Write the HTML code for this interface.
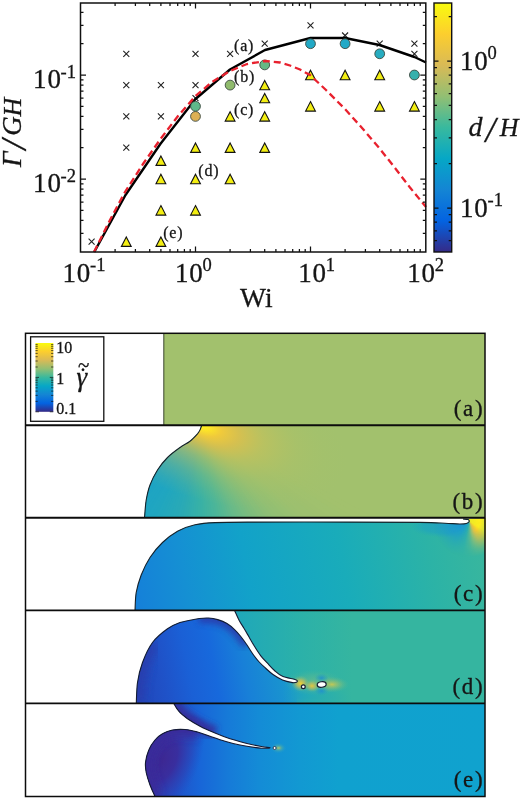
<!DOCTYPE html>
<html><head><meta charset="utf-8"><title>Figure</title>
<style>html,body{margin:0;padding:0;background:#fff}svg{display:block}text{font-family:"Liberation Serif","DejaVu Serif",serif;fill:#161616;stroke:#161616;stroke-width:.3px}</style></head><body>
<svg width="520" height="799" viewBox="0 0 520 799">
<defs>
<linearGradient id="par" x1="0" y1="1" x2="0" y2="0"><stop offset="0.000" stop-color="#352A87"/><stop offset="0.125" stop-color="#0363E1"/><stop offset="0.250" stop-color="#1485D4"/><stop offset="0.375" stop-color="#06A7C6"/><stop offset="0.500" stop-color="#38B99E"/><stop offset="0.625" stop-color="#92BF73"/><stop offset="0.750" stop-color="#D9BA56"/><stop offset="0.875" stop-color="#FCCE2E"/><stop offset="1.000" stop-color="#F9FB0E"/></linearGradient>
<clipPath id="cb"><path d="M201.6 425.3C201.4 426.0 200.9 428.1 200.2 429.5C199.5 430.9 199.2 431.8 197.5 433.8C195.8 435.7 192.9 439.0 190.0 441.2C187.1 443.5 183.8 444.8 180.0 447.5C176.2 450.2 171.2 453.8 167.5 457.5C163.8 461.2 160.4 465.4 157.5 470.0C154.6 474.6 151.9 480.0 150.0 485.0C148.1 490.0 147.2 494.5 146.2 500.0C145.3 505.5 144.8 514.8 144.5 517.8L485 517.8L485 425.3Z"/></clipPath>
<radialGradient id="hb" gradientUnits="userSpaceOnUse" cx="0" cy="0" r="1" gradientTransform="translate(203 426) rotate(18) scale(150 72)"><stop offset="0" stop-color="#fff21c" stop-opacity="1"/><stop offset="0.05" stop-color="#fde428" stop-opacity="1"/><stop offset="0.13" stop-color="#f2ca3a" stop-opacity="0.97"/><stop offset="0.25" stop-color="#dfc04a" stop-opacity="0.85"/><stop offset="0.42" stop-color="#c8c258" stop-opacity="0.6"/><stop offset="0.65" stop-color="#b4c262" stop-opacity="0.32"/><stop offset="0.85" stop-color="#aac266" stop-opacity="0.12"/><stop offset="1" stop-color="#a8c268" stop-opacity="0"/></radialGradient>
<clipPath id="cc"><path d="M135.0 610.4C135.2 607.4 135.2 598.4 136.2 592.5C137.3 586.6 139.0 580.8 141.2 575.0C143.5 569.2 146.5 562.9 150.0 557.5C153.5 552.1 157.9 546.9 162.5 542.5C167.1 538.1 172.1 534.2 177.5 531.2C182.9 528.3 188.8 526.2 195.0 524.8C201.2 523.4 205.8 523.0 215.0 522.6C224.2 522.2 227.5 522.2 250.0 522.1C272.5 522.0 321.7 522.1 350.0 522.1C378.3 522.1 404.2 522.2 420.0 522.4C435.8 522.6 438.3 522.9 445.0 523.2C451.7 523.5 456.4 524.0 460.0 524.0C463.6 524.0 464.9 523.9 466.4 523.5C467.9 523.1 468.9 522.2 469.2 521.6C469.5 521.0 469.0 520.0 468.0 519.6C467.0 519.2 463.8 519.1 463.0 519.0L486 518 L486 610.4Z"/></clipPath>
<linearGradient id="gc" gradientUnits="userSpaceOnUse" x1="135" y1="600" x2="480" y2="535"><stop offset="0" stop-color="#1580d9"/><stop offset="0.15" stop-color="#1590d3"/><stop offset="0.33" stop-color="#12a2c9"/><stop offset="0.6" stop-color="#19acba"/><stop offset="0.85" stop-color="#2cb3a6"/><stop offset="1" stop-color="#38b69e"/></linearGradient>
<radialGradient id="hc" gradientUnits="userSpaceOnUse" cx="0" cy="0" r="1" gradientTransform="translate(478.5 520) scale(26 25)"><stop offset="0" stop-color="#fff21c" stop-opacity="1"/><stop offset="0.3" stop-color="#f8d830" stop-opacity="1"/><stop offset="0.55" stop-color="#d9c04e" stop-opacity="0.8"/><stop offset="0.8" stop-color="#7fbc7c" stop-opacity="0.35"/><stop offset="1" stop-color="#38b69e" stop-opacity="0"/></radialGradient>
<radialGradient id="hc2" gradientUnits="userSpaceOnUse" cx="0" cy="0" r="1" gradientTransform="translate(444 526.5) scale(34 11)"><stop offset="0" stop-color="#1792d5" stop-opacity="0.5"/><stop offset="0.6" stop-color="#1698d0" stop-opacity="0.4"/><stop offset="1" stop-color="#18a0c8" stop-opacity="0"/></radialGradient>
<radialGradient id="mcg" gradientUnits="userSpaceOnUse" cx="469.2" cy="521.4" r="36"><stop offset="0" stop-color="#fff"/><stop offset="0.3" stop-color="#fff"/><stop offset="0.55" stop-color="#fff" stop-opacity="0.68"/><stop offset="0.8" stop-color="#fff" stop-opacity="0.25"/><stop offset="1" stop-color="#fff" stop-opacity="0"/></radialGradient>
<mask id="mc" maskUnits="userSpaceOnUse" x="420" y="510" width="70" height="70"><rect x="420" y="510" width="70" height="70" fill="url(#mcg)"/></mask>
<clipPath id="cd"><path d="M136.3 703.4C136.5 699.9 136.5 689.3 137.5 682.5C138.5 675.7 140.0 669.2 142.5 662.5C145.0 655.8 148.3 648.1 152.5 642.5C156.7 636.9 162.9 632.1 167.5 628.8C172.1 625.4 176.2 624.0 180.0 622.6C183.8 621.2 186.8 620.9 190.0 620.2C193.2 619.5 196.1 618.9 199.2 618.5C202.3 618.1 205.4 617.8 208.5 618.0C211.6 618.2 214.6 618.7 217.7 619.6C220.8 620.5 224.2 621.8 227.0 623.5C229.8 625.2 232.3 627.4 234.6 629.6C236.9 631.8 238.7 633.9 240.8 636.5C242.9 639.1 245.0 642.0 247.0 645.0C249.0 648.0 251.0 651.4 253.0 654.2C255.0 657.0 257.1 659.7 259.2 662.0C261.3 664.3 263.1 665.9 265.4 668.0C267.7 670.1 270.1 672.5 273.0 674.5C275.9 676.5 279.2 678.6 282.5 680.0C285.8 681.4 290.2 682.2 292.5 682.6C294.8 683.0 295.7 682.5 296.5 682.2C297.3 681.9 297.4 681.2 297.2 680.8C296.9 680.3 297.4 680.3 295.0 679.5C292.6 678.7 285.8 677.7 282.5 676.2C279.2 674.8 277.6 673.3 275.0 671.0C272.4 668.7 269.4 665.2 267.0 662.7C264.6 660.2 262.9 658.5 260.8 655.8C258.7 653.1 256.5 649.6 254.6 646.5C252.7 643.4 251.0 640.4 249.2 637.3C247.4 634.2 245.5 630.8 243.8 628.0C242.1 625.2 240.7 623.3 239.2 620.4C237.7 617.5 235.4 612.1 234.6 610.4L486 610.4L486 703.4Z"/></clipPath>
<linearGradient id="gd" gradientUnits="userSpaceOnUse" x1="235" y1="0" x2="485" y2="0"><stop offset="0" stop-color="#1fa7ba"/><stop offset="0.26" stop-color="#2bb1a9"/><stop offset="0.46" stop-color="#36b5a0"/><stop offset="0.8" stop-color="#3fb896"/><stop offset="1" stop-color="#41b994"/></linearGradient>
<linearGradient id="gdA" gradientUnits="userSpaceOnUse" x1="137" y1="690" x2="300" y2="660"><stop offset="0" stop-color="#2246ba"/><stop offset="0.17" stop-color="#1f52c8"/><stop offset="0.325" stop-color="#1a60d6"/><stop offset="0.48" stop-color="#1769dc"/><stop offset="0.66" stop-color="#1880d8"/><stop offset="0.9" stop-color="#1996ce"/><stop offset="1" stop-color="#1da3c2"/></linearGradient>
<filter id="bl4" x="-30%" y="-30%" width="160%" height="160%"><feGaussianBlur stdDeviation="4.5"/></filter>
<linearGradient id="gdF" gradientUnits="userSpaceOnUse" x1="283" y1="0" x2="352" y2="0"><stop offset="0" stop-color="#29b0ab" stop-opacity="0"/><stop offset="0.5" stop-color="#2eb2a6" stop-opacity="0.6"/><stop offset="1" stop-color="#35b5a0" stop-opacity="1"/></linearGradient>
<filter id="bl3" x="-20%" y="-20%" width="140%" height="140%"><feGaussianBlur stdDeviation="3"/></filter>
<clipPath id="cdA"><path d="M136.3 703.4C136.5 699.9 136.5 689.3 137.5 682.5C138.5 675.7 140.0 669.2 142.5 662.5C145.0 655.8 148.3 648.1 152.5 642.5C156.7 636.9 162.9 632.1 167.5 628.8C172.1 625.4 176.2 624.0 180.0 622.6C183.8 621.2 186.8 620.9 190.0 620.2C193.2 619.5 196.1 618.9 199.2 618.5C202.3 618.1 205.4 617.8 208.5 618.0C211.6 618.2 214.6 618.7 217.7 619.6C220.8 620.5 224.2 621.8 227.0 623.5C229.8 625.2 232.3 627.4 234.6 629.6C236.9 631.8 238.7 633.9 240.8 636.5C242.9 639.1 245.0 642.0 247.0 645.0C249.0 648.0 251.0 651.4 253.0 654.2C255.0 657.0 257.1 659.7 259.2 662.0C261.3 664.3 263.1 665.9 265.4 668.0C267.7 670.1 270.1 672.5 273.0 674.5C275.9 676.5 279.2 678.6 282.5 680.0C285.8 681.4 290.1 682.4 292.5 682.6C294.9 682.9 296.2 681.7 297.0 681.5L300 610.4L486 610.4L486 703.4Z"/></clipPath>
<radialGradient id="hd2" gradientUnits="userSpaceOnUse" cx="0" cy="0" r="1" gradientTransform="translate(300.5 683.5) scale(9 8)"><stop offset="0" stop-color="#fbd02c" stop-opacity="0.95"/><stop offset="0.45" stop-color="#e6c244" stop-opacity="0.6"/><stop offset="1" stop-color="#8cc07a" stop-opacity="0"/></radialGradient>
<radialGradient id="hd7" gradientUnits="userSpaceOnUse" cx="0" cy="0" r="1" gradientTransform="translate(314 682.5) scale(30 13)"><stop offset="0" stop-color="#98c274" stop-opacity="0.5"/><stop offset="0.6" stop-color="#78be84" stop-opacity="0.25"/><stop offset="1" stop-color="#50b898" stop-opacity="0"/></radialGradient>
<radialGradient id="hd3" gradientUnits="userSpaceOnUse" cx="0" cy="0" r="1" gradientTransform="translate(312 686) scale(8 6)"><stop offset="0" stop-color="#f4c834" stop-opacity="0.9"/><stop offset="0.5" stop-color="#d8c24c" stop-opacity="0.5"/><stop offset="1" stop-color="#7cbe80" stop-opacity="0"/></radialGradient>
<radialGradient id="hd4" gradientUnits="userSpaceOnUse" cx="0" cy="0" r="1" gradientTransform="translate(332 684.5) scale(17 8)"><stop offset="0" stop-color="#e0cc44" stop-opacity="0.8"/><stop offset="0.4" stop-color="#b0c464" stop-opacity="0.5"/><stop offset="1" stop-color="#60ba8c" stop-opacity="0"/></radialGradient>
<radialGradient id="hd5" gradientUnits="userSpaceOnUse" cx="0" cy="0" r="1" gradientTransform="translate(321.5 678) scale(7 4.5)"><stop offset="0" stop-color="#1a88d6" stop-opacity="0.75"/><stop offset="1" stop-color="#1a98cc" stop-opacity="0"/></radialGradient>
<radialGradient id="hd6" gradientUnits="userSpaceOnUse" cx="0" cy="0" r="1" gradientTransform="translate(321.5 691) scale(7 4.5)"><stop offset="0" stop-color="#1a88d6" stop-opacity="0.75"/><stop offset="1" stop-color="#1a98cc" stop-opacity="0"/></radialGradient>
<clipPath id="ce"><path d="M155.0 796.5C154.2 794.6 151.5 789.0 150.0 785.0C148.5 781.0 147.0 776.2 146.2 772.5C145.5 768.8 145.1 766.2 145.5 762.5C145.9 758.8 147.2 753.8 148.8 750.0C150.3 746.2 152.7 742.7 155.0 740.0C157.3 737.3 159.6 735.4 162.5 733.8C165.4 732.1 168.8 730.7 172.5 730.0C176.2 729.3 180.8 729.2 185.0 729.5C189.2 729.8 193.3 730.9 197.5 732.0C201.7 733.1 205.4 734.7 210.0 736.2C214.6 737.8 220.0 739.8 225.0 741.2C230.0 742.7 233.8 743.8 240.0 745.0C246.2 746.2 257.0 747.8 262.0 748.2C267.0 748.6 270.3 747.9 270.0 747.6C269.7 747.3 264.2 747.1 260.0 746.3C255.8 745.5 250.0 744.3 245.0 743.0C240.0 741.7 235.0 740.4 230.0 738.8C225.0 737.1 220.0 735.1 215.0 733.0C210.0 730.9 204.6 728.6 200.0 726.2C195.4 723.9 191.0 721.2 187.5 718.8C184.0 716.2 181.0 713.8 178.8 711.2C176.5 708.7 174.6 704.7 173.8 703.4L486 703.4L486 796.5Z"/></clipPath>
<linearGradient id="ge" gradientUnits="userSpaceOnUse" x1="146" y1="0" x2="485" y2="0"><stop offset="0" stop-color="#2a42ba"/><stop offset="0.085" stop-color="#2052c8"/><stop offset="0.16" stop-color="#1866d8"/><stop offset="0.25" stop-color="#167cd8"/><stop offset="0.336" stop-color="#148cd6"/><stop offset="0.455" stop-color="#1299d2"/><stop offset="0.57" stop-color="#10a1cf"/><stop offset="1" stop-color="#10a2ce"/></linearGradient>
<radialGradient id="he1" gradientUnits="userSpaceOnUse" cx="0" cy="0" r="1" gradientTransform="translate(278.5 748) scale(8 5.5)"><stop offset="0" stop-color="#e0d048" stop-opacity="0.8"/><stop offset="0.4" stop-color="#80c080" stop-opacity="0.4"/><stop offset="1" stop-color="#1a9ecc" stop-opacity="0"/></radialGradient>
<radialGradient id="he2" gradientUnits="userSpaceOnUse" cx="0" cy="0" r="1" gradientTransform="translate(163 760) rotate(24) scale(36 62)"><stop offset="0" stop-color="#3d2893" stop-opacity="1"/><stop offset="0.35" stop-color="#3a2c9c" stop-opacity="0.95"/><stop offset="0.7" stop-color="#2f3cb0" stop-opacity="0.55"/><stop offset="1" stop-color="#2248c4" stop-opacity="0"/></radialGradient>
<linearGradient id="par2" x1="0" y1="1" x2="0" y2="0"><stop offset="0.000" stop-color="#352A87"/><stop offset="0.125" stop-color="#0363E1"/><stop offset="0.250" stop-color="#1485D4"/><stop offset="0.375" stop-color="#06A7C6"/><stop offset="0.500" stop-color="#38B99E"/><stop offset="0.625" stop-color="#92BF73"/><stop offset="0.750" stop-color="#D9BA56"/><stop offset="0.875" stop-color="#FCCE2E"/><stop offset="1.000" stop-color="#F9FB0E"/></linearGradient>
</defs>
<rect width="520" height="799" fill="#fff"/>
<g id="plot">
<g stroke="#222" stroke-width="1.1" fill="none"><path d="M88.6 238.6L94.6 244.6M88.6 244.6L94.6 238.6"/><path d="M123.3 50.8L129.3 56.8M123.3 56.8L129.3 50.8"/><path d="M123.3 82.1L129.3 88.1M123.3 88.1L129.3 82.1"/><path d="M123.3 113.4L129.3 119.4M123.3 119.4L129.3 113.4"/><path d="M123.3 144.7L129.3 150.7M123.3 150.7L129.3 144.7"/><path d="M157.9 82.1L163.9 88.1M157.9 88.1L163.9 82.1"/><path d="M157.9 113.4L163.9 119.4M157.9 119.4L163.9 113.4"/><path d="M192.5 50.8L198.5 56.8M192.5 56.8L198.5 50.8"/><path d="M192.5 82.1L198.5 88.1M192.5 88.1L198.5 82.1"/><path d="M192.5 95.1L198.5 101.1M192.5 101.1L198.5 95.1"/><path d="M227.1 50.8L233.1 56.8M227.1 56.8L233.1 50.8"/><path d="M261.7 40.7L267.7 46.7M261.7 46.7L267.7 40.7"/><path d="M307.5 22.4L313.5 28.4M307.5 28.4L313.5 22.4"/><path d="M342.1 32.5L348.1 38.5M342.1 38.5L348.1 32.5"/><path d="M376.7 40.7L382.7 46.7M376.7 46.7L382.7 40.7"/><path d="M411.4 40.7L417.4 46.7M411.4 46.7L417.4 40.7"/><path d="M411.4 50.8L417.4 56.8M411.4 56.8L417.4 50.8"/></g>
<path d="M94.25 252L125.5 195L160.5 143.75L195.5 99L230 69.5L265 50L310.5 38L345 38L379.5 45L414.5 57L426 62.5" fill="none" stroke="#000" stroke-width="2.4" stroke-linejoin="round"/>
<g stroke="#3c4a40" stroke-width="0.9"><circle cx="195.5" cy="106.3" r="4.9" fill="#5fb98a"/><circle cx="195.5" cy="116.4" r="4.9" fill="#ddb054"/><circle cx="230.1" cy="85.1" r="4.9" fill="#8fba6c"/><circle cx="264.7" cy="64.9" r="4.9" fill="#66b884"/><circle cx="310.5" cy="43.7" r="4.9" fill="#22a9c6"/><circle cx="345.1" cy="43.7" r="4.9" fill="#22a9c6"/><circle cx="379.7" cy="53.8" r="4.9" fill="#27acc0"/><circle cx="414.4" cy="75.0" r="4.9" fill="#36b0ac"/></g>
<g stroke="#111" stroke-width="1.1" fill="#f3ee12" stroke-linejoin="miter"><path d="M126.3 236.9L131.2 246.4L121.4 246.4Z"/><path d="M160.9 236.9L165.8 246.4L156.0 246.4Z"/><path d="M160.9 205.6L165.8 215.1L156.0 215.1Z"/><path d="M160.9 174.3L165.8 183.8L156.0 183.8Z"/><path d="M160.9 156.0L165.8 165.4L156.0 165.4Z"/><path d="M195.5 205.6L200.4 215.1L190.6 215.1Z"/><path d="M195.5 174.3L200.4 183.8L190.6 183.8Z"/><path d="M195.5 143.0L200.4 152.4L190.6 152.4Z"/><path d="M230.1 174.3L235.0 183.8L225.2 183.8Z"/><path d="M230.1 143.0L235.0 152.4L225.2 152.4Z"/><path d="M230.1 111.7L235.0 121.1L225.2 121.1Z"/><path d="M264.7 143.0L269.6 152.4L259.8 152.4Z"/><path d="M264.7 111.7L269.6 121.1L259.8 121.1Z"/><path d="M264.7 93.4L269.6 102.8L259.8 102.8Z"/><path d="M264.7 80.4L269.6 89.8L259.8 89.8Z"/><path d="M310.5 101.6L315.4 111.1L305.6 111.1Z"/><path d="M310.5 70.3L315.4 79.8L305.6 79.8Z"/><path d="M345.1 70.3L350.0 79.8L340.2 79.8Z"/><path d="M379.7 70.3L384.6 79.8L374.8 79.8Z"/><path d="M379.7 101.6L384.6 111.1L374.8 111.1Z"/><path d="M414.4 101.6L419.3 111.1L409.5 111.1Z"/></g>
<polyline points="94,252 110,220 125,192 143,164 160.5,139 178,116 195.5,96 212,82 230,71 247,64 265,61 280,62.5 290,65.5 300,69.5 310,75 326,90 345,109 362.5,128.5 380,149 395,168 410,187.5 426,207" fill="none" stroke="#e8212e" stroke-width="2.3" stroke-dasharray="7 4"/>
<rect x="80.5" y="3" width="345.3" height="249" fill="none" stroke="#111" stroke-width="1.5"/>
<path d="M115.1 252v-3M115.1 3v3M135.4 252v-3M135.4 3v3M149.7 252v-3M149.7 3v3M160.9 252v-3M160.9 3v3M170.0 252v-3M170.0 3v3M177.7 252v-3M177.7 3v3M184.4 252v-3M184.4 3v3M190.2 252v-3M190.2 3v3M195.5 252v-5.5M195.5 3v5.5M230.1 252v-3M230.1 3v3M250.4 252v-3M250.4 3v3M264.7 252v-3M264.7 3v3M275.9 252v-3M275.9 3v3M285.0 252v-3M285.0 3v3M292.7 252v-3M292.7 3v3M299.4 252v-3M299.4 3v3M305.2 252v-3M305.2 3v3M310.5 252v-5.5M310.5 3v5.5M345.1 252v-3M345.1 3v3M365.4 252v-3M365.4 3v3M379.7 252v-3M379.7 3v3M390.9 252v-3M390.9 3v3M400.0 252v-3M400.0 3v3M407.7 252v-3M407.7 3v3M414.4 252v-3M414.4 3v3M420.2 252v-3M420.2 3v3M80.5 233.4h3M425.8 233.4h-3M80.5 220.4h3M425.8 220.4h-3M80.5 210.3h3M425.8 210.3h-3M80.5 202.1h3M425.8 202.1h-3M80.5 195.1h3M425.8 195.1h-3M80.5 189.1h3M425.8 189.1h-3M80.5 183.8h3M425.8 183.8h-3M80.5 179.0h5.5M425.8 179.0h-5.5M80.5 147.7h3M425.8 147.7h-3M80.5 129.4h3M425.8 129.4h-3M80.5 116.4h3M425.8 116.4h-3M80.5 106.3h3M425.8 106.3h-3M80.5 98.1h3M425.8 98.1h-3M80.5 91.1h3M425.8 91.1h-3M80.5 85.1h3M425.8 85.1h-3M80.5 79.8h3M425.8 79.8h-3M80.5 75.0h5.5M425.8 75.0h-5.5M80.5 43.7h3M425.8 43.7h-3M80.5 25.4h3M425.8 25.4h-3M80.5 12.4h3M425.8 12.4h-3" stroke="#111" stroke-width="1.25" fill="none"/>
<text x="33.0" y="88.2" font-size="27" text-anchor="start" letter-spacing="0.9">10<tspan font-size="18.5" dy="-10.7" dx="-1.2" letter-spacing="0">-1</tspan></text>
<text x="33.0" y="192.2" font-size="27" text-anchor="start" letter-spacing="0.9">10<tspan font-size="18.5" dy="-10.7" dx="-1.2" letter-spacing="0">-2</tspan></text>
<text x="62.400000000000006" y="282" font-size="27" text-anchor="start" letter-spacing="0.9">10<tspan font-size="18.5" dy="-10.7" dx="-1.2" letter-spacing="0">-1</tspan></text>
<text x="174.89999999999998" y="282" font-size="27" text-anchor="start" letter-spacing="0.9">10<tspan font-size="18.5" dy="-10.7" dx="-1.2" letter-spacing="0">0</tspan></text>
<text x="298.2" y="282" font-size="27" text-anchor="start" letter-spacing="0.9">10<tspan font-size="18.5" dy="-10.7" dx="-1.2" letter-spacing="0">1</tspan></text>
<text x="407.2" y="282" font-size="27" text-anchor="start" letter-spacing="0.9">10<tspan font-size="18.5" dy="-10.7" dx="-1.2" letter-spacing="0">2</tspan></text>
<text x="256.3" y="307.3" font-size="27.5" text-anchor="middle">Wi</text>
<text transform="translate(21.2,167) rotate(-90)" font-size="27" font-style="italic"><tspan x="0">Γ</tspan><tspan x="17.5" dy="5" font-size="36">/</tspan><tspan x="31.2" dy="-5" font-size="27">G</tspan><tspan x="50.6" font-size="26">H</tspan></text>
<text x="234" y="50.6" font-size="16" letter-spacing="0.8">(a)</text>
<text x="234" y="82.2" font-size="16" letter-spacing="0.8">(b)</text>
<text x="234" y="115.2" font-size="16" letter-spacing="0.8">(c)</text>
<text x="198.3" y="176.4" font-size="16" letter-spacing="0.8">(d)</text>
<text x="163.2" y="238.3" font-size="16" letter-spacing="0.8">(e)</text>
<rect x="434" y="3" width="17.69999999999999" height="249" fill="url(#par)" stroke="#111" stroke-width="1.4"/>
<path d="M434 240.6h3M451.7 240.6h-3M434 230.8h3M451.7 230.8h-3M434 222.2h3M451.7 222.2h-3M434 214.7h3M451.7 214.7h-3M434 208.0h4.5M451.7 208.0h-4.5M434 163.7h3M451.7 163.7h-3M434 137.9h3M451.7 137.9h-3M434 119.5h3M451.7 119.5h-3M434 105.3h3M451.7 105.3h-3M434 93.6h3M451.7 93.6h-3M434 83.8h3M451.7 83.8h-3M434 75.2h3M451.7 75.2h-3M434 67.7h3M451.7 67.7h-3M434 61.0h4.5M451.7 61.0h-4.5M434 16.7h3M451.7 16.7h-3" stroke="#111" stroke-width="1.25" fill="none"/>
<text x="459.9" y="70" font-size="27" text-anchor="start" letter-spacing="0.9">10<tspan font-size="18.5" dy="-10.7" dx="-1.2" letter-spacing="0">0</tspan></text>
<text x="459.9" y="217" font-size="27" text-anchor="start" letter-spacing="0.9">10<tspan font-size="18.5" dy="-10.7" dx="-1.2" letter-spacing="0">-1</tspan></text>
<text y="136" font-size="27" font-style="italic"><tspan x="468.6" font-size="28">d</tspan><tspan x="485.5" dy="5.5" font-size="36">/</tspan><tspan x="499.8" dy="-5.5" font-size="26">H</tspan></text>
</g>
<g id="panels">
<rect x="163.8" y="333.3" width="321.2" height="92.0" fill="#a2c16d"/>
<path d="M163.8 333.3V425.3" stroke="#2a3320" stroke-width="0.9"/>
<g clip-path="url(#cb)"><rect x="25.5" y="425.3" width="459.5" height="92.49999999999994" fill="#a2c16d"/><path d="M201.5 425.5L572.3 622.7L560.4 643.7Z" fill="#a2c16d"/><path d="M201.5 425.5L567.0 632.3L554.5 653.0Z" fill="#a2c16d"/><path d="M201.5 425.5L561.5 641.8L548.5 662.2Z" fill="#a1c16d"/><path d="M201.5 425.5L555.7 651.2L542.1 671.2Z" fill="#a0c16e"/><path d="M201.5 425.5L549.7 660.4L535.6 680.0Z" fill="#a0c16e"/><path d="M201.5 425.5L543.4 669.4L528.8 688.7Z" fill="#9fc06e"/><path d="M201.5 425.5L536.9 678.3L521.8 697.2Z" fill="#9ec06e"/><path d="M201.5 425.5L530.2 687.0L514.6 705.4Z" fill="#9dc06f"/><path d="M201.5 425.5L523.2 695.5L507.2 713.5Z" fill="#9dc06f"/><path d="M201.5 425.5L516.1 703.8L499.5 721.4Z" fill="#9cc06f"/><path d="M201.5 425.5L508.7 711.9L491.7 729.1Z" fill="#9ac070"/><path d="M201.5 425.5L501.1 719.9L483.6 736.6Z" fill="#98c071"/><path d="M201.5 425.5L493.3 727.6L475.4 743.9Z" fill="#96c071"/><path d="M201.5 425.5L485.2 735.2L467.0 751.0Z" fill="#94bf72"/><path d="M201.5 425.5L477.0 742.5L458.3 757.8Z" fill="#93bf73"/><path d="M201.5 425.5L468.7 749.6L449.6 764.4Z" fill="#91bf74"/><path d="M201.5 425.5L460.1 756.5L440.6 770.8Z" fill="#8ebf75"/><path d="M201.5 425.5L451.3 763.1L431.5 776.9Z" fill="#8cbe76"/><path d="M201.5 425.5L442.4 769.5L422.2 782.8Z" fill="#88be78"/><path d="M201.5 425.5L433.3 775.7L412.8 788.5Z" fill="#86be79"/><path d="M201.5 425.5L424.1 781.7L403.2 793.9Z" fill="#82bd7b"/><path d="M201.5 425.5L414.7 787.4L393.5 799.1Z" fill="#7fbd7c"/><path d="M201.5 425.5L405.1 792.8L383.6 804.0Z" fill="#7cbc7e"/><path d="M201.5 425.5L395.4 798.0L373.7 808.6Z" fill="#78bc80"/><path d="M201.5 425.5L385.6 803.0L363.6 813.0Z" fill="#75bc82"/><path d="M201.5 425.5L375.7 807.7L353.4 817.1Z" fill="#71bb84"/><path d="M201.5 425.5L365.6 812.1L343.1 820.9Z" fill="#6dbb86"/><path d="M201.5 425.5L355.4 816.3L332.7 824.5Z" fill="#6aba88"/><path d="M201.5 425.5L345.1 820.2L322.2 827.8Z" fill="#66ba8a"/><path d="M201.5 425.5L334.8 823.8L311.6 830.8Z" fill="#62b98c"/><path d="M201.5 425.5L324.3 827.1L301.0 833.6Z" fill="#5eb88f"/><path d="M201.5 425.5L313.7 830.2L290.3 836.0Z" fill="#59b891"/><path d="M201.5 425.5L303.1 833.0L279.5 838.2Z" fill="#55b793"/><path d="M201.5 425.5L292.4 835.5L268.7 840.1Z" fill="#51b795"/><path d="M201.5 425.5L281.6 837.8L257.8 841.7Z" fill="#4db698"/><path d="M201.5 425.5L270.8 839.7L246.9 843.0Z" fill="#4ab59a"/><path d="M201.5 425.5L260.0 841.4L235.9 844.1Z" fill="#47b59c"/><path d="M201.5 425.5L249.0 842.8L224.9 844.8Z" fill="#44b49d"/><path d="M201.5 425.5L238.1 843.9L214.0 845.3Z" fill="#42b39f"/><path d="M201.5 425.5L227.1 844.7L203.0 845.5Z" fill="#3fb3a1"/><path d="M201.5 425.5L216.2 845.2L192.0 845.4Z" fill="#3cb2a3"/><path d="M201.5 425.5L205.2 845.5L181.0 845.0Z" fill="#39b1a5"/><path d="M201.5 425.5L194.2 845.4L170.0 844.3Z" fill="#37b1a7"/><path d="M201.5 425.5L183.2 845.1L159.1 843.3Z" fill="#35b0a9"/><path d="M201.5 425.5L172.2 844.5L148.1 842.1Z" fill="#34afab"/><path d="M201.5 425.5L161.2 843.6L137.2 840.6Z" fill="#32aead"/><path d="M201.5 425.5L150.3 842.4L126.4 838.7Z" fill="#30adae"/><path d="M201.5 425.5L139.4 840.9L115.6 836.6Z" fill="#2eacb0"/><path d="M201.5 425.5L128.6 839.1L104.9 834.2Z" fill="#2dabb2"/><path d="M201.5 425.5L117.8 837.1L94.2 831.6Z" fill="#2baab4"/><path d="M201.5 425.5L107.0 834.7L83.6 828.6Z" fill="#2aaab6"/><path d="M201.5 425.5L96.3 832.1L73.1 825.4Z" fill="#28a9b7"/><path d="M201.5 425.5L85.7 829.2L62.7 821.9Z" fill="#28a9b8"/><path d="M201.5 425.5L75.2 826.1L52.4 818.1Z" fill="#26a9b9"/><path d="M201.5 425.5L64.8 822.6L42.1 814.1Z" fill="#26a8ba"/><path d="M201.5 425.5L54.4 818.9L32.0 809.8Z" fill="#24a8bb"/><path d="M201.5 425.5L44.2 814.9L22.0 805.2Z" fill="#24a7bc"/><path d="M201.5 425.5L34.0 810.7L12.1 800.4Z" fill="#22a7bd"/><path d="M201.5 425.5L24.0 806.1L2.4 795.3Z" fill="#22a7be"/><path d="M201.5 425.5L14.1 801.4L-7.2 790.0Z" fill="#20a6bf"/><path d="M201.5 425.5L4.3 796.3L-16.7 784.4Z" fill="#20a6c0"/><path d="M201.5 425.5L-5.3 791.0L-26.0 778.5Z" fill="#20a6c1"/><path d="M201.5 425.5L-14.8 785.5L-35.2 772.5Z" fill="#1fa5c1"/><path d="M201.5 425.5L-24.2 779.7L-44.2 766.1Z" fill="#1fa5c2"/><path d="M201.5 425.5L-33.4 773.7L-53.0 759.6Z" fill="#1fa5c2"/><path d="M201.5 425.5L-42.4 767.4L-61.7 752.8Z" fill="#1fa5c2"/><path d="M201.5 425.5L-51.3 760.9L-70.2 745.8Z" fill="#1ea4c3"/><path d="M201.5 425.5L-60.0 754.2L-78.4 738.6Z" fill="#1ea4c3"/><path d="M201.5 425.5L-68.5 747.2L-86.5 731.2Z" fill="#1ea4c4"/><path d="M201.5 425.5L-76.8 740.1L-94.4 723.5Z" fill="#1da3c4"/><path d="M201.5 425.5L-84.9 732.7L-102.1 715.7Z" fill="#1da3c5"/><path d="M201.5 425.5L-92.9 725.1L-109.6 707.6Z" fill="#1da3c5"/><path d="M201.5 425.5L-100.6 717.3L-116.9 699.4Z" fill="#1da3c5"/><path d="M201.5 425.5L-108.2 709.2L-124.0 691.0Z" fill="#1da3c5"/><path d="M201.5 425.5L-115.5 701.0L-130.8 682.3Z" fill="#1da3c5"/><path d="M201.5 425.5L-122.6 692.7L-137.4 673.6Z" fill="#1da3c5"/><path d="M201.5 425.5L-129.5 684.1L-143.8 664.6Z" fill="#1da3c5"/><path d="M201.5 425.5L-136.1 675.3L-149.9 655.5Z" fill="#1da3c5"/><path d="M201.5 425.5L-142.5 666.4L-155.8 646.2Z" fill="#1da3c5"/><path d="M201.5 425.5L-148.7 657.3L-161.5 636.8Z" fill="#1da3c5"/><path d="M201.5 425.5L-154.7 648.1L-166.9 627.2Z" fill="#1da3c5"/><path d="M201.5 425.5L-160.4 638.7L-167.6 625.9Z" fill="#1da3c5"/><rect x="25.5" y="425.3" width="459.5" height="92.49999999999994" fill="url(#hb)"/></g>
<path d="M201.6 425.3C201.4 426.0 200.9 428.1 200.2 429.5C199.5 430.9 199.2 431.8 197.5 433.8C195.8 435.7 192.9 439.0 190.0 441.2C187.1 443.5 183.8 444.8 180.0 447.5C176.2 450.2 171.2 453.8 167.5 457.5C163.8 461.2 160.4 465.4 157.5 470.0C154.6 474.6 151.9 480.0 150.0 485.0C148.1 490.0 147.2 494.5 146.2 500.0C145.3 505.5 144.8 514.8 144.5 517.8" fill="none" stroke="#16222a" stroke-width="1.1"/>
<g clip-path="url(#cc)"><rect x="25.5" y="517.8" width="459.5" height="92.60000000000002" fill="url(#gc)"/><rect x="380" y="517.8" width="106" height="40" fill="url(#hc2)"/><g mask="url(#mc)"><path d="M469.2 521.4L458.8 462.3L465.6 461.5Z" fill="#fff21c"/><path d="M469.2 521.4L461.9 461.8L468.8 461.4Z" fill="#fff21c"/><path d="M469.2 521.4L465.0 461.5L471.9 461.5Z" fill="#fff21c"/><path d="M469.2 521.4L468.2 461.4L475.1 461.7Z" fill="#fff21c"/><path d="M469.2 521.4L471.3 461.4L478.2 462.1Z" fill="#fff11c"/><path d="M469.2 521.4L474.4 461.6L481.3 462.6Z" fill="#fff11d"/><path d="M469.2 521.4L477.6 462.0L484.3 463.3Z" fill="#fff11d"/><path d="M469.2 521.4L480.6 462.5L487.3 464.2Z" fill="#fff11d"/><path d="M469.2 521.4L483.7 463.2L490.3 465.2Z" fill="#fff11d"/><path d="M469.2 521.4L486.7 464.0L493.2 466.4Z" fill="#fff11d"/><path d="M469.2 521.4L489.7 465.0L496.1 467.8Z" fill="#fff11d"/><path d="M469.2 521.4L492.6 466.2L498.8 469.2Z" fill="#fef01d"/><path d="M469.2 521.4L495.5 467.5L501.5 470.9Z" fill="#fef01d"/><path d="M469.2 521.4L498.3 468.9L504.1 472.6Z" fill="#fef01d"/><path d="M469.2 521.4L501.0 470.5L506.6 474.5Z" fill="#fef01d"/><path d="M469.2 521.4L503.6 472.3L509.0 476.5Z" fill="#fef01d"/><path d="M469.2 521.4L506.1 474.1L511.3 478.7Z" fill="#fef01e"/><path d="M469.2 521.4L508.6 476.1L513.5 480.9Z" fill="#fef01e"/><path d="M469.2 521.4L510.9 478.2L515.6 483.3Z" fill="#feef1e"/><path d="M469.2 521.4L513.1 480.5L517.5 485.8Z" fill="#feef1e"/><path d="M469.2 521.4L515.2 482.8L519.3 488.4Z" fill="#feef1e"/><path d="M469.2 521.4L517.1 485.3L521.0 491.0Z" fill="#feef1e"/><path d="M469.2 521.4L518.9 487.8L522.5 493.8Z" fill="#feef1e"/><path d="M469.2 521.4L520.6 490.5L523.8 496.6Z" fill="#feef1e"/><path d="M469.2 521.4L522.2 493.2L525.1 499.5Z" fill="#feef1e"/><path d="M469.2 521.4L523.6 496.0L526.1 502.5Z" fill="#feee1e"/><path d="M469.2 521.4L524.8 498.9L527.0 505.5Z" fill="#feee1e"/><path d="M469.2 521.4L525.9 501.9L527.8 508.5Z" fill="#feee1f"/><path d="M469.2 521.4L526.9 504.9L528.4 511.6Z" fill="#feee1f"/><path d="M469.2 521.4L527.7 507.9L528.8 514.7Z" fill="#feee1f"/><path d="M469.2 521.4L528.3 511.0L529.1 517.8Z" fill="#feee1f"/><path d="M469.2 521.4L528.8 514.1L529.2 521.0Z" fill="#feee1f"/><path d="M469.2 521.4L529.1 517.2L529.1 524.1Z" fill="#feee1f"/><path d="M469.2 521.4L529.2 520.4L528.9 527.3Z" fill="#fded1f"/><path d="M469.2 521.4L529.2 523.5L528.5 530.4Z" fill="#fded1f"/><path d="M469.2 521.4L529.0 526.6L528.0 533.5Z" fill="#fded1f"/><path d="M469.2 521.4L528.6 529.8L527.3 536.5Z" fill="#fded1f"/><path d="M469.2 521.4L528.1 532.8L526.4 539.5Z" fill="#fded1f"/><path d="M469.2 521.4L527.4 535.9L525.4 542.5Z" fill="#fded20"/><path d="M469.2 521.4L526.6 538.9L524.2 545.4Z" fill="#fded20"/><path d="M469.2 521.4L525.6 541.9L522.8 548.3Z" fill="#fdec20"/><path d="M469.2 521.4L524.4 544.8L521.4 551.0Z" fill="#fdec20"/><path d="M469.2 521.4L523.1 547.7L519.7 553.7Z" fill="#fdec20"/><path d="M469.2 521.4L521.7 550.5L518.0 556.3Z" fill="#fdeb20"/><path d="M469.2 521.4L520.1 553.2L516.1 558.8Z" fill="#fce623"/><path d="M469.2 521.4L518.3 555.8L514.1 561.2Z" fill="#fbe225"/><path d="M469.2 521.4L516.5 558.3L511.9 563.5Z" fill="#fadd28"/><path d="M469.2 521.4L514.5 560.8L509.7 565.7Z" fill="#f9d82a"/><path d="M469.2 521.4L512.4 563.1L507.3 567.8Z" fill="#f8d32c"/><path d="M469.2 521.4L510.1 565.3L504.8 569.7Z" fill="#f7ce2f"/><path d="M469.2 521.4L507.8 567.4L502.2 571.5Z" fill="#f3cb33"/><path d="M469.2 521.4L505.3 569.3L499.6 573.2Z" fill="#eec938"/><path d="M469.2 521.4L502.8 571.1L496.8 574.7Z" fill="#e8c73e"/><path d="M469.2 521.4L500.1 572.8L494.0 576.0Z" fill="#e2c444"/><path d="M469.2 521.4L497.4 574.4L491.1 577.3Z" fill="#ddc249"/><path d="M469.2 521.4L494.6 575.8L488.1 578.3Z" fill="#d0c251"/><path d="M469.2 521.4L491.7 577.0L485.1 579.2Z" fill="#c2c15a"/><path d="M469.2 521.4L488.7 578.1L482.1 580.0Z" fill="#b4c162"/><path d="M469.2 521.4L485.7 579.1L479.0 580.6Z" fill="#a6c06b"/><path d="M469.2 521.4L482.7 579.9L475.9 581.0Z" fill="#96bf73"/><path d="M469.2 521.4L479.6 580.5L472.8 581.3Z" fill="#85bd7c"/><path d="M469.2 521.4L476.5 581.0L469.6 581.4Z" fill="#74bb84"/><path d="M469.2 521.4L473.4 581.3L466.5 581.3Z" fill="#63b98d"/><path d="M469.2 521.4L470.2 581.4L463.3 581.1Z" fill="#57b794"/><path d="M469.2 521.4L467.1 581.4L460.2 580.7Z" fill="#4cb59b"/><path d="M469.2 521.4L464.0 581.2L457.1 580.2Z" fill="#42b2a1"/><path d="M469.2 521.4L460.8 580.8L454.1 579.5Z" fill="#37b0a8"/><path d="M469.2 521.4L457.8 580.3L451.1 578.6Z" fill="#2eaeaf"/><path d="M469.2 521.4L454.7 579.6L448.1 577.6Z" fill="#2cacb2"/><path d="M469.2 521.4L451.7 578.8L445.2 576.4Z" fill="#2aaab5"/><path d="M469.2 521.4L448.7 577.8L442.3 575.0Z" fill="#28a8b8"/><path d="M469.2 521.4L445.8 576.6L439.6 573.6Z" fill="#26a6bb"/><path d="M469.2 521.4L442.9 575.3L436.9 571.9Z" fill="#24a5be"/><path d="M469.2 521.4L440.1 573.9L434.3 570.2Z" fill="#22a3c1"/><path d="M469.2 521.4L437.4 572.3L431.8 568.3Z" fill="#20a1c4"/><path d="M469.2 521.4L434.8 570.5L429.4 566.3Z" fill="#1fa0c7"/><path d="M469.2 521.4L432.3 568.7L427.1 564.1Z" fill="#1e9fc8"/><path d="M469.2 521.4L429.8 566.7L424.9 561.9Z" fill="#1e9ec9"/><path d="M469.2 521.4L427.5 564.6L422.8 559.5Z" fill="#1e9dca"/><path d="M469.2 521.4L425.3 562.3L420.9 557.0Z" fill="#1d9ccb"/><path d="M469.2 521.4L423.2 560.0L419.1 554.4Z" fill="#1d9bcd"/><path d="M469.2 521.4L421.3 557.5L417.4 551.8Z" fill="#1d9ace"/><path d="M469.2 521.4L419.5 555.0L415.9 549.0Z" fill="#1c99cf"/><path d="M469.2 521.4L417.8 552.3L414.6 546.2Z" fill="#1c98d0"/><path d="M469.2 521.4L416.2 549.6L413.3 543.3Z" fill="#1c98d0"/><path d="M469.2 521.4L414.8 546.8L412.3 540.3Z" fill="#1c98d0"/><path d="M469.2 521.4L413.6 543.9L411.4 537.3Z" fill="#1c98d0"/><path d="M469.2 521.4L412.5 540.9L410.6 534.3Z" fill="#1c98d0"/><path d="M469.2 521.4L411.5 537.9L410.0 531.2Z" fill="#1c98d0"/><path d="M469.2 521.4L410.7 534.9L409.6 528.1Z" fill="#1c98d0"/><path d="M469.2 521.4L410.1 531.8L409.3 525.0Z" fill="#1c98d0"/><path d="M469.2 521.4L409.6 528.7L409.2 521.8Z" fill="#1c98d0"/><path d="M469.2 521.4L409.3 525.6L409.3 518.7Z" fill="#1c98d0"/><path d="M469.2 521.4L409.2 522.4L409.5 515.5Z" fill="#1c98d0"/><path d="M469.2 521.4L409.2 519.3L409.8 513.0Z" fill="#1c98d0"/></g></g>
<path d="M135.0 610.4C135.2 607.4 135.2 598.4 136.2 592.5C137.3 586.6 139.0 580.8 141.2 575.0C143.5 569.2 146.5 562.9 150.0 557.5C153.5 552.1 157.9 546.9 162.5 542.5C167.1 538.1 172.1 534.2 177.5 531.2C182.9 528.3 188.8 526.2 195.0 524.8C201.2 523.4 205.8 523.0 215.0 522.6C224.2 522.2 227.5 522.2 250.0 522.1C272.5 522.0 321.7 522.1 350.0 522.1C378.3 522.1 404.2 522.2 420.0 522.4C435.8 522.6 438.3 522.9 445.0 523.2C451.7 523.5 456.4 524.0 460.0 524.0C463.6 524.0 464.9 523.9 466.4 523.5C467.9 523.1 468.9 522.2 469.2 521.6C469.5 521.0 469.0 520.0 468.0 519.6C467.0 519.2 463.8 519.1 463.0 519.0" fill="none" stroke="#16222a" stroke-width="1.1"/>
<g clip-path="url(#cd)"><rect x="25.5" y="610.4" width="459.5" height="93.0" fill="url(#gd)"/><g clip-path="url(#cdA)"><path d="M136.3 703.4C136.5 699.9 136.5 689.3 137.5 682.5C138.5 675.7 140.0 669.2 142.5 662.5C145.0 655.8 148.3 648.1 152.5 642.5C156.7 636.9 162.9 632.1 167.5 628.8C172.1 625.4 176.2 624.0 180.0 622.6C183.8 621.2 186.8 620.9 190.0 620.2C193.2 619.5 196.1 618.9 199.2 618.5C202.3 618.1 205.4 617.8 208.5 618.0C211.6 618.2 214.6 618.7 217.7 619.6C220.8 620.5 224.2 621.8 227.0 623.5C229.8 625.2 232.3 627.4 234.6 629.6C236.9 631.8 238.7 633.9 240.8 636.5C242.9 639.1 245.0 642.0 247.0 645.0C249.0 648.0 251.0 651.4 253.0 654.2C255.0 657.0 257.1 659.7 259.2 662.0C261.3 664.3 263.1 665.9 265.4 668.0C267.7 670.1 270.1 672.5 273.0 674.5C275.9 676.5 279.2 678.6 282.5 680.0C285.8 681.4 290.1 682.4 292.5 682.6C294.9 682.9 296.2 681.7 297.0 681.5L330 690 L390 703.4 Z" fill="url(#gdA)" filter="url(#bl3)"/><path d="M136.3 703.4C136.5 699.9 136.5 689.3 137.5 682.5C138.5 675.7 140.0 669.2 142.5 662.5C145.0 655.8 148.3 648.1 152.5 642.5C156.7 636.9 162.9 632.1 167.5 628.8C172.1 625.4 176.2 624.0 180.0 622.6C183.8 621.2 186.8 620.9 190.0 620.2C193.2 619.5 196.1 618.9 199.2 618.5C202.3 618.1 205.4 617.8 208.5 618.0C211.6 618.2 214.6 618.7 217.7 619.6C220.8 620.5 224.2 621.8 227.0 623.5C229.8 625.2 232.3 627.4 234.6 629.6C236.9 631.8 238.7 633.9 240.8 636.5C242.9 639.1 245.0 642.0 247.0 645.0C249.0 648.0 251.0 651.4 253.0 654.2C255.0 657.0 257.1 659.7 259.2 662.0C261.3 664.3 263.1 665.9 265.4 668.0C267.7 670.1 270.1 672.5 273.0 674.5C275.9 676.5 279.2 678.6 282.5 680.0C285.8 681.4 290.1 682.4 292.5 682.6C294.9 682.9 296.2 681.7 297.0 681.5L297 703.4Z" fill="url(#gdA)"/><path d="M136.3 703.4C136.5 699.9 136.5 689.3 137.5 682.5C138.5 675.7 140.0 669.2 142.5 662.5C145.0 655.8 150.8 645.8 152.5 642.5" fill="none" stroke="#2a3cac" stroke-width="16" filter="url(#bl4)" opacity="0.8"/><path d="M199.2 618.5C200.8 618.4 205.4 617.8 208.5 618.0C211.6 618.2 214.6 618.7 217.7 619.6C220.8 620.5 224.2 621.8 227.0 623.5C229.8 625.2 232.3 627.4 234.6 629.6C236.9 631.8 238.7 633.9 240.8 636.5C242.9 639.1 246.0 643.6 247.0 645.0" fill="none" stroke="#2a3aaa" stroke-width="10" filter="url(#bl3)" opacity="0.9"/></g><rect x="283" y="610.4" width="202" height="93.0" fill="url(#gdF)"/><rect x="270" y="660" width="100" height="43" fill="url(#hd7)"/><rect x="280" y="665" width="80" height="36" fill="url(#hd4)"/><rect x="280" y="665" width="80" height="36" fill="url(#hd5)"/><rect x="280" y="665" width="80" height="36" fill="url(#hd6)"/><rect x="280" y="665" width="80" height="36" fill="url(#hd2)"/><rect x="280" y="665" width="80" height="36" fill="url(#hd3)"/></g>
<path d="M136.3 703.4C136.5 699.9 136.5 689.3 137.5 682.5C138.5 675.7 140.0 669.2 142.5 662.5C145.0 655.8 148.3 648.1 152.5 642.5C156.7 636.9 162.9 632.1 167.5 628.8C172.1 625.4 176.2 624.0 180.0 622.6C183.8 621.2 186.8 620.9 190.0 620.2C193.2 619.5 196.1 618.9 199.2 618.5C202.3 618.1 205.4 617.8 208.5 618.0C211.6 618.2 214.6 618.7 217.7 619.6C220.8 620.5 224.2 621.8 227.0 623.5C229.8 625.2 232.3 627.4 234.6 629.6C236.9 631.8 238.7 633.9 240.8 636.5C242.9 639.1 245.0 642.0 247.0 645.0C249.0 648.0 251.0 651.4 253.0 654.2C255.0 657.0 257.1 659.7 259.2 662.0C261.3 664.3 263.1 665.9 265.4 668.0C267.7 670.1 270.1 672.5 273.0 674.5C275.9 676.5 279.2 678.6 282.5 680.0C285.8 681.4 290.2 682.2 292.5 682.6C294.8 683.0 295.7 682.5 296.5 682.2C297.3 681.9 297.4 681.2 297.2 680.8C296.9 680.3 297.4 680.3 295.0 679.5C292.6 678.7 285.8 677.7 282.5 676.2C279.2 674.8 277.6 673.3 275.0 671.0C272.4 668.7 269.4 665.2 267.0 662.7C264.6 660.2 262.9 658.5 260.8 655.8C258.7 653.1 256.5 649.6 254.6 646.5C252.7 643.4 251.0 640.4 249.2 637.3C247.4 634.2 245.5 630.8 243.8 628.0C242.1 625.2 240.7 623.3 239.2 620.4C237.7 617.5 235.4 612.1 234.6 610.4" fill="none" stroke="#141c34" stroke-width="1.1"/>
<circle cx="303.3" cy="686.8" r="1.9" fill="#fff" stroke="#141c30" stroke-width="1.2"/><ellipse cx="321.7" cy="684.5" rx="4.5" ry="2.8" fill="#fff" stroke="#141c30" stroke-width="1.2" transform="rotate(-8 321.7 684.5)"/>
<g clip-path="url(#ce)"><rect x="25.5" y="703.4" width="459.5" height="93.10000000000002" fill="url(#ge)"/><rect x="25.5" y="703.4" width="250" height="93.10000000000002" fill="url(#he2)"/><path d="M173.8 703.4C174.6 704.7 176.5 708.7 178.8 711.2C181.0 713.8 184.0 716.2 187.5 718.8C191.0 721.2 195.4 723.9 200.0 726.2C204.6 728.6 212.5 731.9 215.0 733.0" fill="none" stroke="#35309f" stroke-width="13" filter="url(#bl3)" opacity="1"/><path d="M155.0 796.5C154.2 794.6 151.5 789.0 150.0 785.0C148.5 781.0 147.0 776.2 146.2 772.5C145.5 768.8 145.1 766.2 145.5 762.5C145.9 758.8 147.2 753.8 148.8 750.0C150.3 746.2 152.7 742.7 155.0 740.0C157.3 737.3 159.6 735.4 162.5 733.8C165.4 732.1 168.8 730.7 172.5 730.0C176.2 729.3 180.8 729.2 185.0 729.5C189.2 729.8 195.4 731.6 197.5 732.0" fill="none" stroke="#3a2a98" stroke-width="14" filter="url(#bl4)" opacity="0.95"/><rect x="260" y="735" width="40" height="26" fill="url(#he1)"/></g>
<path d="M155.0 796.5C154.2 794.6 151.5 789.0 150.0 785.0C148.5 781.0 147.0 776.2 146.2 772.5C145.5 768.8 145.1 766.2 145.5 762.5C145.9 758.8 147.2 753.8 148.8 750.0C150.3 746.2 152.7 742.7 155.0 740.0C157.3 737.3 159.6 735.4 162.5 733.8C165.4 732.1 168.8 730.7 172.5 730.0C176.2 729.3 180.8 729.2 185.0 729.5C189.2 729.8 193.3 730.9 197.5 732.0C201.7 733.1 205.4 734.7 210.0 736.2C214.6 737.8 220.0 739.8 225.0 741.2C230.0 742.7 233.8 743.8 240.0 745.0C246.2 746.2 257.0 747.8 262.0 748.2C267.0 748.6 270.3 747.9 270.0 747.6C269.7 747.3 264.2 747.1 260.0 746.3C255.8 745.5 250.0 744.3 245.0 743.0C240.0 741.7 235.0 740.4 230.0 738.8C225.0 737.1 220.0 735.1 215.0 733.0C210.0 730.9 204.6 728.6 200.0 726.2C195.4 723.9 191.0 721.2 187.5 718.8C184.0 716.2 181.0 713.8 178.8 711.2C176.5 708.7 174.6 704.7 173.8 703.4" fill="none" stroke="#141a34" stroke-width="1.1"/>
<circle cx="274.6" cy="748" r="1.5" fill="#fff" stroke="#1c2040" stroke-width="0.8"/>
<rect x="25.5" y="333.3" width="459.5" height="463.2" fill="none" stroke="#0c0c0c" stroke-width="1.5"/>
<path d="M25.5 425.3H485M25.5 517.8H485M25.5 610.4H485M25.5 703.4H485" stroke="#0c0c0c" stroke-width="1.9"/>
<text x="484.4" y="416.3" font-size="23" text-anchor="end" letter-spacing="1.7">(a)</text>
<text x="484.4" y="508.8" font-size="23" text-anchor="end" letter-spacing="1.7">(b)</text>
<text x="484.4" y="601.4" font-size="23" text-anchor="end" letter-spacing="1.7">(c)</text>
<text x="484.4" y="694.2" font-size="23" text-anchor="end" letter-spacing="1.7">(d)</text>
<text x="484.4" y="787.4" font-size="23" text-anchor="end" letter-spacing="1.7">(e)</text>
<rect x="30.6" y="336.8" width="73.2" height="84.5" fill="#fff" stroke="#111" stroke-width="1.3"/>
<rect x="35.5" y="343" width="17.8" height="68.8" fill="url(#par2)"/>
<path d="M35.5 411.8h3.5M53.3 411.8h-3.5M35.5 401.4h2.2M53.3 401.4h-2.2M35.5 395.4h2.2M53.3 395.4h-2.2M35.5 391.1h2.2M53.3 391.1h-2.2M35.5 387.8h2.2M53.3 387.8h-2.2M35.5 385.0h2.2M53.3 385.0h-2.2M35.5 382.7h2.2M53.3 382.7h-2.2M35.5 380.7h2.2M53.3 380.7h-2.2M35.5 379.0h2.2M53.3 379.0h-2.2M35.5 377.4h3.5M53.3 377.4h-3.5M35.5 367.0h2.2M53.3 367.0h-2.2M35.5 361.0h2.2M53.3 361.0h-2.2M35.5 356.7h2.2M53.3 356.7h-2.2M35.5 353.4h2.2M53.3 353.4h-2.2M35.5 350.6h2.2M53.3 350.6h-2.2M35.5 348.3h2.2M53.3 348.3h-2.2M35.5 346.3h2.2M53.3 346.3h-2.2M35.5 344.6h2.2M53.3 344.6h-2.2" stroke="#111" stroke-width="0.7"/>
<text x="56.3" y="353.2" font-size="16">10</text><text x="56.3" y="384" font-size="16">1</text><text x="56.3" y="414.4" font-size="16">0.1</text>
<text x="76.6" y="386.3" font-size="27" font-style="italic">γ</text><text x="83" y="371" font-size="20" text-anchor="middle">.</text><text x="83.6" y="372" font-size="21" text-anchor="middle">~</text>
</g>
</svg></body></html>
